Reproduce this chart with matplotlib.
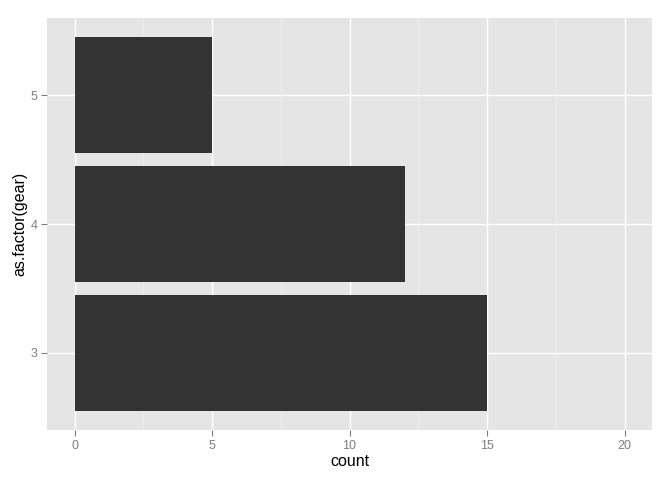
import matplotlib
matplotlib.use("Agg")
import matplotlib.pyplot as plt
from matplotlib.ticker import MultipleLocator

plt.rcParams["font.family"] = ["Liberation Sans", "DejaVu Sans"]

gear = ["3", "4", "5"]
count = [15, 12, 5]

fig = plt.figure(figsize=(6.72, 4.8), dpi=100)
ax = fig.add_axes([47 / 672, 50 / 480, 605 / 672, 412 / 480])
ax.set_facecolor("#E5E5E5")

pos = list(range(1, len(gear) + 1))
ax.barh(pos, count, height=0.9, color="#333333", zorder=3)

ax.set_xlim(-1, 21)
ax.set_ylim(0.4, 3.6)
ax.set_xticks([0, 5, 10, 15, 20])
ax.xaxis.set_minor_locator(MultipleLocator(2.5))
ax.set_yticks(pos)
ax.set_yticklabels(gear)

ax.grid(which="major", color="white", linewidth=1.0, zorder=1)
ax.grid(which="minor", axis="x", color="#F2F2F2", linewidth=0.5, zorder=1)
ax.set_axisbelow(True)

for s in ax.spines.values():
    s.set_visible(False)
ax.tick_params(which="major", length=4, color="#7F7F7F", labelcolor="#7F7F7F",
               labelsize=9, width=0.8, pad=3)
ax.tick_params(which="minor", length=0)

ax.set_xlabel("count", fontsize=11.5, labelpad=2)
ax.set_ylabel("as.factor(gear)", fontsize=11.5, labelpad=2)

fig.savefig("out.png", dpi=100)
